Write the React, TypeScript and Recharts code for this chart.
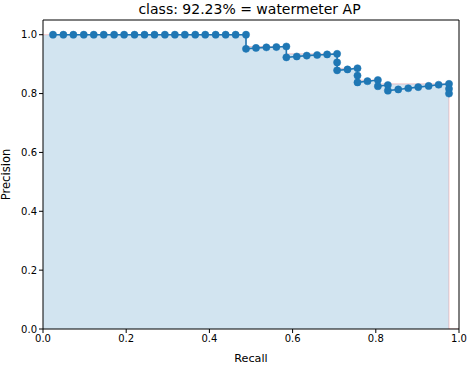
import React from "react";
import {
  ComposedChart,
  Area,
  Scatter,
  XAxis,
  YAxis,
  ReferenceLine,
} from "recharts";

const title = "class: 92.23% = watermeter AP";
const xLabel = "Recall";
const yLabel = "Precision";
const xTicks = [0, 0.2, 0.4, 0.6, 0.8, 1.0];
const yTicks = [0, 0.2, 0.4, 0.6, 0.8, 1.0];

const recall = [
  0.024, 0.049, 0.073, 0.098, 0.122, 0.146, 0.171, 0.195, 0.22, 0.244,
  0.268, 0.293, 0.317, 0.341, 0.366, 0.39, 0.415, 0.439, 0.463, 0.488,
  0.488, 0.512, 0.537, 0.561, 0.585, 0.585, 0.61, 0.634, 0.659, 0.683,
  0.707, 0.707, 0.707, 0.732, 0.756, 0.756, 0.756, 0.78, 0.805, 0.805,
  0.829, 0.829, 0.854, 0.878, 0.902, 0.927, 0.951, 0.976, 0.976, 0.976,
];
const precision = [
  1, 1, 1, 1, 1, 1, 1, 1, 1, 1,
  1, 1, 1, 1, 1, 1, 1, 1, 1, 1,
  0.952, 0.955, 0.957, 0.958, 0.96, 0.923, 0.926, 0.929, 0.931, 0.933,
  0.935, 0.906, 0.879, 0.882, 0.886, 0.861, 0.838, 0.842, 0.846, 0.825,
  0.829, 0.81, 0.814, 0.818, 0.822, 0.826, 0.83, 0.833, 0.816, 0.8,
];

const points = recall.map((r, i) => ({ x: r, y: precision[i] }));

// interpolated (monotone) precision envelope used for the shaded area
const envelope = (() => {
  const mrec = [0, ...recall, 1];
  const mprec = [0, ...precision, 0];
  for (let i = mprec.length - 2; i >= 0; i--) {
    mprec[i] = Math.max(mprec[i], mprec[i + 1]);
  }
  const xs = [...mrec.slice(0, -1), mrec[mrec.length - 2], mrec[mrec.length - 1]];
  const ys = [...mprec.slice(0, -1), 0, mprec[mprec.length - 1]];
  return xs.map((x, i) => ({ x, y: ys[i] }));
})();

const FONT = "DejaVu Sans, sans-serif";
const BLUE = "#1f77b4";

const Dot = (props: any) => {
  const { cx, cy } = props;
  if (cx == null || cy == null) return null;
  return <circle cx={cx} cy={cy} r={3.6} fill={BLUE} stroke={BLUE} strokeWidth={0.5} />;
};

export default function App() {
  const W = 474;
  const H = 365;
  const left = 43;
  const right = 459;
  const top = 20;
  const bottom = 329;
  return (
    <div style={{ position: "absolute", left: 0, top: 0, width: W, height: H, background: "#fff" }}>
      <ComposedChart
        width={W}
        height={H}
        data={envelope}
        margin={{ top: top, right: W - right, bottom: H - bottom - 36, left: 0 }}
      >
        <XAxis
          dataKey="x"
          type="number"
          domain={[0, 1]}
          ticks={xTicks}
          tickFormatter={(v: number) => v.toFixed(1)}
          tick={{ fontSize: 10, fill: "#000", fontFamily: FONT }}
          tickSize={4}
          tickMargin={2}
          axisLine={{ stroke: "#000", strokeWidth: 1 }}
          tickLine={{ stroke: "#000" }}
          height={36}
          allowDuplicatedCategory={false}
        />
        <YAxis
          type="number"
          domain={[0, 1.05]}
          ticks={yTicks}
          allowDataOverflow
          tickFormatter={(v: number) => v.toFixed(1)}
          tick={{ fontSize: 10, fill: "#000", fontFamily: FONT }}
          tickSize={4}
          tickMargin={2}
          axisLine={{ stroke: "#000", strokeWidth: 1 }}
          tickLine={{ stroke: "#000" }}
          width={left}
        />
        <Area
          type="linear"
          dataKey="y"
          fill={BLUE}
          fillOpacity={0.2}
          stroke="rgba(255,0,0,0.2)"
          strokeWidth={1}
          isAnimationActive={false}
          dot={false}
          activeDot={false}
        />
        <Scatter
          data={points}
          dataKey="y"
          fill={BLUE}
          line={{ stroke: BLUE, strokeWidth: 1.6 }}
          lineJointType="linear"
          shape={<Dot />}
          isAnimationActive={false}
        />
        <ReferenceLine y={1.05} stroke="#000" strokeWidth={1} ifOverflow="extendDomain" />
        <ReferenceLine x={1} stroke="#000" strokeWidth={1} />
        <text x={249.5} y={13.5} textAnchor="middle" fontSize={14} fontFamily={FONT} fill="#000">
          {title}
        </text>
        <text x={(left + right) / 2} y={362} textAnchor="middle" fontSize={11.2} fontFamily={FONT} fill="#000">
          {xLabel}
        </text>
        <text
          x={9.5}
          y={(top + bottom) / 2}
          textAnchor="middle"
          fontSize={11.6}
          fontFamily={FONT}
          fill="#000"
          transform={`rotate(-90, 9.5, ${(top + bottom) / 2})`}
        >
          {yLabel}
        </text>
      </ComposedChart>
    </div>
  );
}
